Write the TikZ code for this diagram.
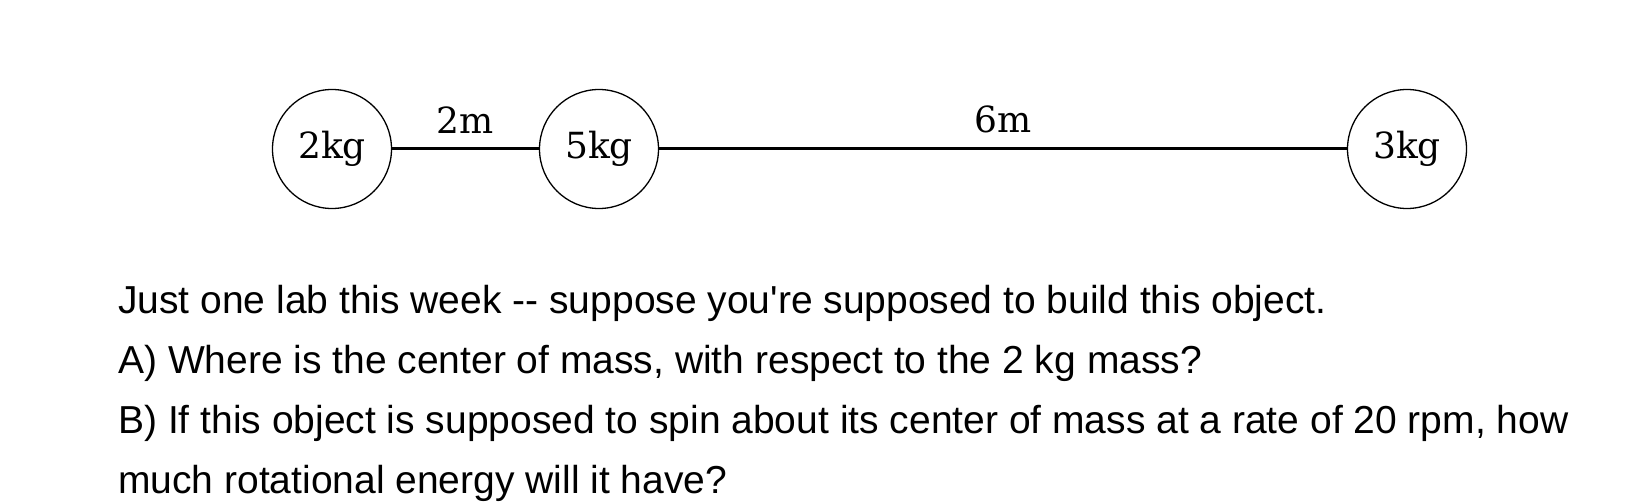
\documentclass[tikz,border=0pt]{standalone}
\usepackage{fontspec}
\setmainfont{Liberation Sans}
\newfontfamily\massfont{DejaVu Serif}
\usetikzlibrary{positioning}
\tikzstyle{mass} = [circle, draw=black, line width=1.3pt, minimum size=119pt, inner sep=0pt, font=\massfont\fontsize{36}{42}\selectfont]
\tikzstyle{rod} = [line width=3pt]
\tikzstyle{dist} = [font=\massfont\fontsize{36}{42}\selectfont, inner sep=0pt]
\tikzstyle{question} = [anchor=base west, inner sep=0pt, font=\fontsize{39}{46}\selectfont]

\begin{document}
\begin{tikzpicture}[x=1pt, y=-1pt]
 \useasboundingbox (0,0) rectangle (1638,502);

 \node (m2) [mass] at (332,149) {2kg};
 \node (m5) [mass, right of=m2, node distance=267pt] {5kg};
 \node (m3) [mass, right of=m5, node distance=808pt] {3kg};

 \draw [rod] (m2) -- node (d1) [dist, above=14pt] {2m} (m5);
 \draw [rod] (m5) -- node (d2) [dist, above=14pt] {6m} (m3);

 \node (q0) [question] at (118,314) {Just one lab this week -{}- suppose you\textquotesingle re supposed to build this object.};
 \node (q1) [question] at (118,373.5) {A) Where is the center of mass, with respect to the 2 kg mass?};
 \node (q2) [question] at (118,433.5) {B) If this object is supposed to spin about its center of mass at a rate of 20 rpm, how};
 \node (q3) [question] at (118,493) {much rotational energy will it have?};

\end{tikzpicture}
\end{document}
